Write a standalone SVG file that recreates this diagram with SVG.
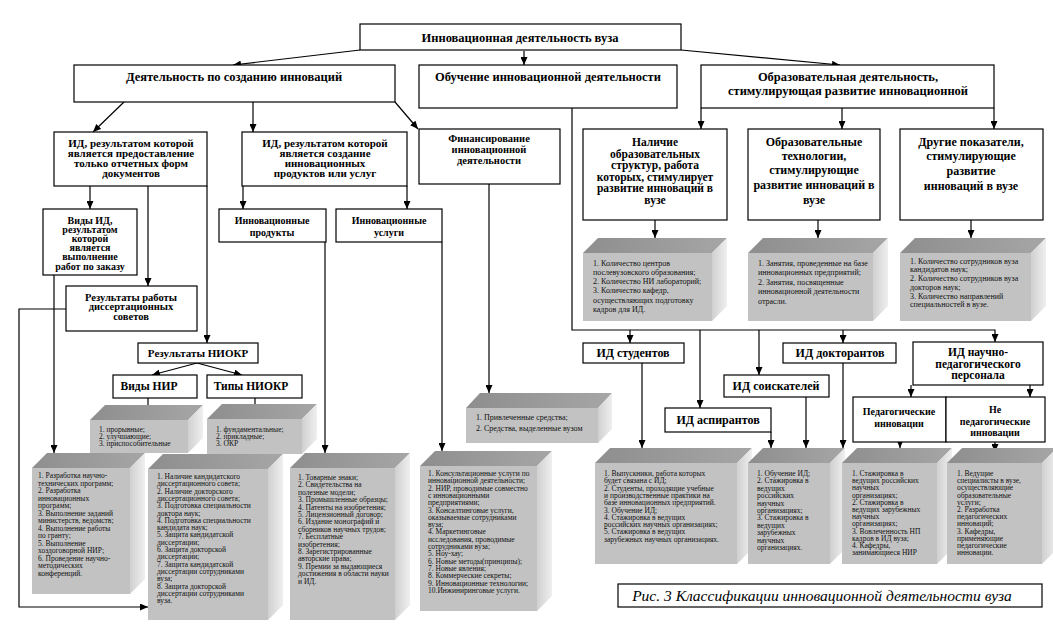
<svg xmlns="http://www.w3.org/2000/svg" width="1053" height="640" viewBox="0 0 1053 640">
<defs>
<marker id="ah" viewBox="0 0 8 7" refX="8" refY="3.5" markerWidth="8" markerHeight="7" markerUnits="userSpaceOnUse" orient="auto"><path d="M0,0 L8,3.5 L0,7 z" fill="#000"/></marker>
<linearGradient id="sg" x1="0" y1="0" x2="1" y2="0"><stop offset="0" stop-color="#d0d0d0"/><stop offset="1" stop-color="#efefef"/></linearGradient>
<linearGradient id="tg" x1="0" y1="0" x2="1" y2="0"><stop offset="0" stop-color="#8e8e8e"/><stop offset="1" stop-color="#a6a6a6"/></linearGradient>
<style>
.b{fill:#fff;stroke:#000;stroke-width:1.2}
.t{font-family:"Liberation Serif","DejaVu Serif",serif;font-weight:bold;text-anchor:middle;fill:#000}
.s{font-family:"Liberation Serif","DejaVu Serif",serif;font-size:7.5px;fill:#111}
.s8{font-size:8px}
.fr{fill:#c2c2c2}
.tp{fill:url(#tg)}
.sd{fill:url(#sg)}
.c{stroke:#000;stroke-width:1.2;fill:none}
.a{marker-end:url(#ah)}
.cap{font-family:"Liberation Serif","DejaVu Serif",serif;font-style:italic;font-size:15.5px;text-anchor:middle;fill:#000}
</style>
</defs>
<rect width="1053" height="640" fill="#fff"/>

<g id="connectors">
<path class="c a" d="M360,50 L233,65"/>
<path class="c a" d="M524,51 V65"/>
<path class="c a" d="M681,50 L840,65"/>
<path class="c a" d="M124,102 L93,132"/>
<path class="c a" d="M253,102 V132"/>
<path class="c a" d="M395,102 L418,129"/>
<path class="c a" d="M90,186 V209"/>
<path class="c a" d="M148,186 V286"/>
<path class="c a" d="M207,186 V343"/>
<path class="c a" d="M243,186 V209"/>
<path class="c a" d="M407,186 V209"/>
<path class="c a" d="M54,275 V453"/>
<path class="c a" d="M66,309 H19 V607 H148"/>
<path class="c a" d="M197,363 L152,375"/>
<path class="c a" d="M197,363 L242,375"/>
<path class="c a" d="M148,398 V420"/>
<path class="c a" d="M255,398 V419"/>
<path class="c a" d="M325,242 V453"/>
<path class="c a" d="M442,242 V451"/>
<path class="c a" d="M489,184 V393"/>
<path class="c a" d="M572,108 V330 H995 V342"/>
<path class="c a" d="M630,330 V343"/>
<path class="c a" d="M700,330 V408"/>
<path class="c a" d="M759,330 V375"/>
<path class="c a" d="M843,330 V343"/>
<path class="c a" d="M642,363 V448"/>
<path class="c a" d="M771,432 V448"/>
<path class="c a" d="M806,397 V448"/>
<path class="c a" d="M843,363 V448"/>
<path class="c a" d="M911,385 V397"/>
<path class="c a" d="M1030,385 V397"/>
<path class="c a" d="M900,442 V448"/>
<path class="c a" d="M995,442 V452"/>
<path class="c a" d="M701,108 V129"/>
<path class="c a" d="M842,108 V129"/>
<path class="c a" d="M994,108 V129"/>
<path class="c a" d="M655,220 V238"/>
<path class="c a" d="M818,220 V238"/>
<path class="c a" d="M971,220 V238"/>
</g>

<g id="n-top"><rect class="b" x="360" y="24" width="321" height="26"/><text class="t" x="520" y="42" font-size="12.5">Инновационная деятельность вуза</text></g>
<g id="n-sozd"><rect class="b" x="74" y="65" width="321" height="37"/><text class="t" x="234" y="81" font-size="12.5">Деятельность по созданию инноваций</text></g>
<g id="n-obuch"><rect class="b" x="419" y="65" width="258" height="43"/><text class="t" x="548" y="81" font-size="12.5">Обучение инновационной деятельности</text></g>
<g id="n-obraz"><rect class="b" x="701" y="65" width="293" height="43"/><text class="t" x="848" y="81" font-size="12.5">Образовательная деятельность,</text><text class="t" x="848" y="95" font-size="12.5">стимулирующая развитие инновационной</text></g>

<g id="n-id1"><rect class="b" x="54" y="132" width="153" height="54"/><text class="t" font-size="11"><tspan x="131" y="147">ИД, результатом которой</tspan><tspan x="131" y="157">является предоставление</tspan><tspan x="131" y="167">только отчетных форм</tspan><tspan x="131" y="177">документов</tspan></text></g>
<g id="n-id2"><rect class="b" x="242" y="132" width="165" height="54"/><text class="t" font-size="11"><tspan x="325" y="147">ИД, результатом которой</tspan><tspan x="325" y="157">является создание</tspan><tspan x="325" y="167">инновационных</tspan><tspan x="325" y="177">продуктов или услуг</tspan></text></g>
<g id="n-fin"><rect class="b" x="419" y="129" width="141" height="55"/><text class="t" font-size="10.5"><tspan x="489" y="141.5">Финансирование</tspan><tspan x="489" y="152.5">инновационной</tspan><tspan x="489" y="163.5">деятельности</tspan></text></g>

<g id="n-vidyid"><rect class="b" x="43" y="209" width="94" height="66"/><text class="t" font-size="10"><tspan x="90" y="223.5">Виды ИД,</tspan><tspan x="90" y="232.5">результатом</tspan><tspan x="90" y="241.5">которой</tspan><tspan x="90" y="250.5">является</tspan><tspan x="90" y="260">выполнение</tspan><tspan x="90" y="269.5">работ по заказу</tspan></text></g>
<g id="n-dissov"><rect class="b" x="66" y="286" width="131" height="45"/><text class="t" font-size="10.5"><tspan x="131" y="300.5">Результаты работы</tspan><tspan x="131" y="310">диссертационных</tspan><tspan x="131" y="319.5">советов</tspan></text></g>
<g id="n-prod"><rect class="b" x="219" y="209" width="107" height="33"/><text class="t" font-size="10"><tspan x="272" y="223.5">Инновационные</tspan><tspan x="272" y="235.5">продукты</tspan></text></g>
<g id="n-usl"><rect class="b" x="336" y="209" width="106" height="33"/><text class="t" font-size="10"><tspan x="389" y="223.5">Инновационные</tspan><tspan x="389" y="235.5">услуги</tspan></text></g>

<g id="n-niokr"><rect class="b" x="138" y="343" width="120" height="20"/><text class="t" x="198" y="357" font-size="11">Результаты НИОКР</text></g>
<g id="n-vidynir"><rect class="b" x="113" y="375" width="84" height="23"/><text class="t" x="149" y="390" font-size="11.5">Виды НИР</text></g>
<g id="n-tipy"><rect class="b" x="207" y="375" width="95" height="23"/><text class="t" x="251" y="390" font-size="11.5">Типы НИОКР</text></g>

<g id="n-nalich"><rect class="b" x="583" y="129" width="144" height="91"/><text class="t" font-size="11.5"><tspan x="655" y="146">Наличие</tspan><tspan x="655" y="157.5">образовательных</tspan><tspan x="655" y="169">структур, работа</tspan><tspan x="655" y="180.5">которых, стимулирует</tspan><tspan x="655" y="192">развитие инноваций в</tspan><tspan x="655" y="203.5">вузе</tspan></text></g>
<g id="n-tech"><rect class="b" x="748" y="129" width="132" height="91"/><text class="t" font-size="12"><tspan x="814" y="146">Образовательные</tspan><tspan x="814" y="160">технологии,</tspan><tspan x="814" y="174">стимулирующие</tspan><tspan x="814" y="189">развитие инноваций в</tspan><tspan x="814" y="204">вузе</tspan></text></g>
<g id="n-drug"><rect class="b" x="900" y="129" width="143" height="91"/><text class="t" font-size="12"><tspan x="971" y="146">Другие показатели,</tspan><tspan x="971" y="160">стимулирующие</tspan><tspan x="971" y="175">развитие</tspan><tspan x="971" y="190">инноваций в вузе</tspan></text></g>

<g id="n-stud"><rect class="b" x="583" y="343" width="101" height="20"/><text class="t" x="633" y="357" font-size="12">ИД студентов</text></g>
<g id="n-dokt"><rect class="b" x="783" y="343" width="113" height="20"/><text class="t" x="840" y="357" font-size="12">ИД докторантов</text></g>
<g id="n-npp"><rect class="b" x="913" y="342" width="130" height="43"/><text class="t" font-size="11.5"><tspan x="978" y="355.5">ИД научно-</tspan><tspan x="978" y="367.5">педагогического</tspan><tspan x="978" y="379">персонала</tspan></text></g>
<g id="n-soisk"><rect class="b" x="724" y="375" width="105" height="22"/><text class="t" x="776" y="390" font-size="12">ИД соискателей</text></g>
<g id="n-asp"><rect class="b" x="665" y="408" width="106" height="24"/><text class="t" x="718" y="424" font-size="12">ИД аспирантов</text></g>
<g id="n-ped"><rect class="b" x="853" y="397" width="93" height="45"/><text class="t" font-size="10"><tspan x="899" y="415">Педагогические</tspan><tspan x="899" y="427">инновации</tspan></text></g>
<g id="n-neped"><rect class="b" x="946" y="397" width="99" height="45"/><text class="t" font-size="10"><tspan x="995" y="413">Не</tspan><tspan x="995" y="425">педагогические</tspan><tspan x="995" y="436">инновации</tspan></text></g>

<g id="g-a"><polygon class="tp" points="583,253 598,238 727,238 712,253"/><polygon class="sd" points="712,253 727,238 727,306 712,321"/><rect class="fr" x="583" y="253" width="129" height="68"/>
<text class="s s8"><tspan x="593" y="265.5">1. Количество центров</tspan><tspan x="593" y="274.5">послевузовского образования;</tspan><tspan x="593" y="284">2. Количество НИ лабораторий;</tspan><tspan x="593" y="293">3. Количество кафедр,</tspan><tspan x="593" y="302.5">осуществляющих подготовку</tspan><tspan x="593" y="312">кадров для ИД.</tspan></text></g>
<g id="g-b"><polygon class="tp" points="748,253 763,238 888,238 873,253"/><polygon class="sd" points="873,253 888,238 888,306 873,321"/><rect class="fr" x="748" y="253" width="125" height="68"/>
<text class="s s8"><tspan x="758" y="265.5">1. Занятия, проведенные на базе</tspan><tspan x="758" y="275">инновационных предприятий;</tspan><tspan x="758" y="284.5">2. Занятия, посвященные</tspan><tspan x="758" y="294">инновационной деятельности</tspan><tspan x="758" y="303.5">отрасли.</tspan></text></g>
<g id="g-c"><polygon class="tp" points="900,253 915,238 1046,238 1031,253"/><polygon class="sd" points="1031,253 1046,238 1046,306 1031,321"/><rect class="fr" x="900" y="253" width="131" height="68"/>
<text class="s s8"><tspan x="910" y="263.5">1. Количество сотрудников вуза</tspan><tspan x="910" y="272">кандидатов наук;</tspan><tspan x="910" y="281">2. Количество сотрудников вуза</tspan><tspan x="910" y="289.5">докторов наук;</tspan><tspan x="910" y="298.5">3. Количество направлений</tspan><tspan x="910" y="307">специальностей в вузе.</tspan></text></g>

<g id="g-vidy"><polygon class="tp" points="90,420 105,405 203,405 188,420"/><polygon class="sd" points="188,420 203,405 203,438 188,453"/><rect class="fr" x="90" y="420" width="98" height="33"/>
<text class="s" font-size="7"><tspan x="99" y="431.5">1. прорывные;</tspan><tspan x="99" y="438.5">2. улучшающие;</tspan><tspan x="99" y="445.5">3. приспособительные</tspan></text></g>
<g id="g-tipy"><polygon class="tp" points="207,419 222,404 317,404 302,419"/><polygon class="sd" points="302,419 317,404 317,439 302,454"/><rect class="fr" x="207" y="419" width="95" height="35"/>
<text class="s" font-size="7"><tspan x="216" y="431.5">1. фундаментальные;</tspan><tspan x="216" y="438.5">2. прикладные;</tspan><tspan x="216" y="445.5">3. ОКР</tspan></text></g>
<g id="g-fin"><polygon class="tp" points="466,408 480,393 612,393 598,408"/><polygon class="sd" points="598,408 612,393 612,429 598,443"/><rect class="fr" x="466" y="408" width="132" height="35"/>
<text class="s s8"><tspan x="476" y="420">1. Привлеченные средства;</tspan><tspan x="476" y="431">2. Средства, выделенные вузом</tspan></text></g>

<g id="g-1"><polygon class="tp" points="32,468 47,453 145,453 130,468"/><polygon class="sd" points="130,468 145,453 145,579 130,594"/><rect class="fr" x="32" y="468" width="98" height="126"/>
<text class="s"><tspan x="38" y="478">1. Разработка научно-</tspan><tspan x="38" dy="7.5">технических программ;</tspan><tspan x="38" dy="7.5">2. Разработка</tspan><tspan x="38" dy="7.5">инновационных</tspan><tspan x="38" dy="7.5">программ;</tspan><tspan x="38" dy="7.5">3. Выполнение заданий</tspan><tspan x="38" dy="7.5">министерств, ведомств;</tspan><tspan x="38" dy="7.5">4. Выполнение работы</tspan><tspan x="38" dy="7.5">по гранту;</tspan><tspan x="38" dy="7.5">5. Выполнение</tspan><tspan x="38" dy="7.5">хоздоговорной НИР;</tspan><tspan x="38" dy="7.5">6. Проведение научно-</tspan><tspan x="38" dy="7.5">методических</tspan><tspan x="38" dy="7.5">конференций.</tspan></text></g>
<g id="g-2"><polygon class="tp" points="148,469 163,454 283,454 268,469"/><polygon class="sd" points="268,469 283,454 283,605 268,620"/><rect class="fr" x="148" y="469" width="120" height="151"/>
<text class="s"><tspan x="157" y="479">1. Наличие кандидатского</tspan><tspan x="157" dy="7.3">диссертационного совета;</tspan><tspan x="157" dy="7.3">2. Наличие докторского</tspan><tspan x="157" dy="7.3">диссертационного совета;</tspan><tspan x="157" dy="7.3">3. Подготовка специальности</tspan><tspan x="157" dy="7.3">доктора наук;</tspan><tspan x="157" dy="7.3">4. Подготовка специальности</tspan><tspan x="157" dy="7.3">кандидата наук;</tspan><tspan x="157" dy="7.3">5. Защита кандидатской</tspan><tspan x="157" dy="7.3">диссертации;</tspan><tspan x="157" dy="7.3">6. Защита докторской</tspan><tspan x="157" dy="7.3">диссертации;</tspan><tspan x="157" dy="7.3">7. Защита кандидатской</tspan><tspan x="157" dy="7.3">диссертации сотрудниками</tspan><tspan x="157" dy="7.3">вуза;</tspan><tspan x="157" dy="7.3">8. Защита докторской</tspan><tspan x="157" dy="7.3">диссертации сотрудниками</tspan><tspan x="157" dy="7.3">вуза.</tspan></text></g>
<g id="g-3"><polygon class="tp" points="290,468 305,453 410,453 395,468"/><polygon class="sd" points="395,468 410,453 410,605 395,620"/><rect class="fr" x="290" y="468" width="105" height="152"/>
<text class="s"><tspan x="298" y="480">1. Товарные знаки;</tspan><tspan x="298" dy="7.4">2. Свидетельства на</tspan><tspan x="298" dy="7.4">полезные модели;</tspan><tspan x="298" dy="7.4">3. Промышленные образцы;</tspan><tspan x="298" dy="7.4">4. Патенты на изобретения;</tspan><tspan x="298" dy="7.4">5. Лицензионный договор;</tspan><tspan x="298" dy="7.4">6. Издание монографий и</tspan><tspan x="298" dy="7.4">сборников научных трудов;</tspan><tspan x="298" dy="7.4">7. Бесплатные</tspan><tspan x="298" dy="7.4">изобретения;</tspan><tspan x="298" dy="7.4">8. Зарегистрированные</tspan><tspan x="298" dy="7.4">авторские права;</tspan><tspan x="298" dy="7.4">9. Премии за выдающиеся</tspan><tspan x="298" dy="7.4">достижения в области науки</tspan><tspan x="298" dy="7.4">и ИД.</tspan></text></g>
<g id="g-4"><polygon class="tp" points="420,466 435,451 552,451 537,466"/><polygon class="sd" points="537,466 552,451 552,596 537,611"/><rect class="fr" x="420" y="466" width="117" height="145"/>
<text class="s" font-size="7.2"><tspan x="428" y="476">1. Консультационные услуги по</tspan><tspan x="428" dy="7.3">инновационной деятельности;</tspan><tspan x="428" dy="7.3">2. НИР, проводимые совместно</tspan><tspan x="428" dy="7.3">с инновационными</tspan><tspan x="428" dy="7.3">предприятиями;</tspan><tspan x="428" dy="7.3">3. Консалтинговые услуги,</tspan><tspan x="428" dy="7.3">оказываемые сотрудниками</tspan><tspan x="428" dy="7.3">вуза;</tspan><tspan x="428" dy="7.3">4. Маркетинговые</tspan><tspan x="428" dy="7.3">исследования, проводимые</tspan><tspan x="428" dy="7.3">сотрудниками вуза;</tspan><tspan x="428" dy="7.3">5. Ноу-хау;</tspan><tspan x="428" dy="7.3">6. Новые методы(принципы);</tspan><tspan x="428" dy="7.3">7. Новые явления;</tspan><tspan x="428" dy="7.3">8. Коммерческие секреты;</tspan><tspan x="428" dy="7.3">9. Инновационные технологии;</tspan><tspan x="428" dy="7.3">10.Инжиниринговые услуги.</tspan></text></g>
<g id="g-5"><polygon class="tp" points="595,463 610,448 752,448 737,463"/><polygon class="sd" points="737,463 752,448 752,549 737,564"/><rect class="fr" x="595" y="463" width="142" height="101"/>
<text class="s"><tspan x="604" y="476">1. Выпускники, работа которых</tspan><tspan x="604" dy="7.3">будет связана с ИД;</tspan><tspan x="604" dy="7.3">2. Студенты, проходящие учебные</tspan><tspan x="604" dy="7.3">и производственные практики на</tspan><tspan x="604" dy="7.3">базе инновационных предприятий.</tspan><tspan x="604" dy="7.3">3. Обучение ИД;</tspan><tspan x="604" dy="7.3">4. Стажировка в ведущих</tspan><tspan x="604" dy="7.3">российских научных организациях;</tspan><tspan x="604" dy="7.3">5. Стажировка в ведущих</tspan><tspan x="604" dy="7.3">зарубежных научных организациях.</tspan></text></g>
<g id="g-6"><polygon class="tp" points="748,463 763,448 845,448 830,463"/><polygon class="sd" points="830,463 845,448 845,549 830,564"/><rect class="fr" x="748" y="463" width="82" height="101"/>
<text class="s"><tspan x="757" y="476">1. Обучение ИД;</tspan><tspan x="757" dy="7.4">2. Стажировка в</tspan><tspan x="757" dy="7.4">ведущих</tspan><tspan x="757" dy="7.4">российских</tspan><tspan x="757" dy="7.4">научных</tspan><tspan x="757" dy="7.4">организациях;</tspan><tspan x="757" dy="7.4">3. Стажировка в</tspan><tspan x="757" dy="7.4">ведущих</tspan><tspan x="757" dy="7.4">зарубежных</tspan><tspan x="757" dy="7.4">научных</tspan><tspan x="757" dy="7.4">организациях.</tspan></text></g>
<g id="g-7"><polygon class="tp" points="842,463 857,448 952,448 937,463"/><polygon class="sd" points="937,463 952,448 952,549 937,564"/><rect class="fr" x="842" y="463" width="95" height="101"/>
<text class="s"><tspan x="852" y="476">1. Стажировка в</tspan><tspan x="852" dy="7.2">ведущих российских</tspan><tspan x="852" dy="7.2">научных</tspan><tspan x="852" dy="7.2">организациях;</tspan><tspan x="852" dy="7.2">2. Стажировка в</tspan><tspan x="852" dy="7.2">ведущих зарубежных</tspan><tspan x="852" dy="7.2">научных</tspan><tspan x="852" dy="7.2">организациях;</tspan><tspan x="852" dy="7.2">3. Вовлеченность НП</tspan><tspan x="852" dy="7.2">кадров в ИД вуза;</tspan><tspan x="852" dy="7.2">4. Кафедры,</tspan><tspan x="852" dy="7.2">занимающиеся НИР</tspan></text></g>
<g id="g-8"><polygon class="tp" points="947,463 962,448 1057,448 1042,463"/><polygon class="sd" points="1042,463 1057,448 1057,549 1042,564"/><rect class="fr" x="947" y="463" width="95" height="101"/>
<text class="s"><tspan x="957" y="476">1. Ведущие</tspan><tspan x="957" dy="7.2">специалисты в вузе,</tspan><tspan x="957" dy="7.2">осуществляющие</tspan><tspan x="957" dy="7.2">образовательные</tspan><tspan x="957" dy="7.2">услуги;</tspan><tspan x="957" dy="7.2">2. Разработка</tspan><tspan x="957" dy="7.2">педагогических</tspan><tspan x="957" dy="7.2">инноваций;</tspan><tspan x="957" dy="7.2">3. Кафедры,</tspan><tspan x="957" dy="7.2">применяющие</tspan><tspan x="957" dy="7.2">педагогические</tspan><tspan x="957" dy="7.2">инновации.</tspan></text></g>

<g id="caption"><rect class="b" x="618" y="584" width="424" height="23"/><text class="cap" x="822" y="601">Рис. 3 Классификации инновационной деятельности вуза</text></g>
</svg>
